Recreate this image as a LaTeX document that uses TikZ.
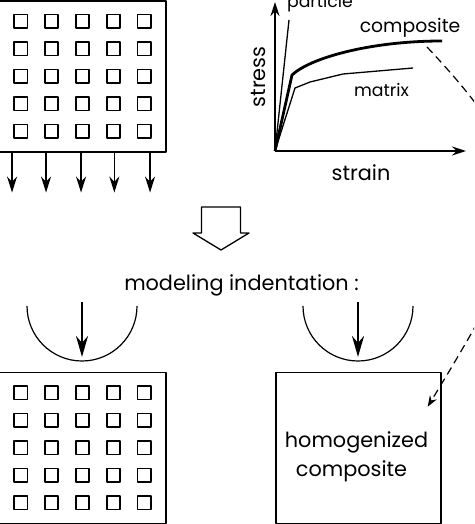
\documentclass[tikz,border=0pt]{standalone}
\usepackage{fontspec}
\setmainfont{Poppins}
\usetikzlibrary{arrows.meta, positioning}

\tikzset{
	specimen/.style={draw, line width=1.3pt, minimum width=167pt, minimum height=151pt, inner sep=0pt},
	pore/.style={draw, line width=1.5pt, minimum size=13.2pt, inner sep=0pt},
	load/.style={line width=1.3pt, -{Stealth[length=16pt, width=10pt]}},
	push/.style={line width=2.6pt, -{Stealth[length=21pt, width=12pt]}},
	curve/.style={line width=1.3pt},
	big/.style={font=\fontsize{20.8}{25}\selectfont, inner sep=0pt},
	small/.style={font=\fontsize{17.3}{21}\selectfont, inner sep=0pt},
}

\begin{document}
\begin{tikzpicture}[x=1pt, y=-1pt, line join=round]
	\useasboundingbox (0,0) rectangle (474,524);
	\clip (0,0) rectangle (474,524);

	% specimens with particles
	\node[specimen] 									(S1) 	at (82.5,76.4) 	{};
	\node[specimen] 									(S2) 	at (82.5,447.9) {};
	\foreach \dy in {0,371.5}
		\foreach \i in {0,...,4}
			\foreach \j in {0,...,4}
				\node[pore] at ({20.7+30.9*\i},{21.3+27.5*\j+\dy}) {};
	\foreach \x in {13.7,47.7,82.7,116,151.7}
		\draw[load] ([xshift=\x pt]S1.south west) -- ++(0,40);

	% stress-strain curves
	\coordinate 										(O) 	at (275,151);
	\draw[curve, -{Stealth[length=14pt, width=9pt]}] (O) -- (275,2);
	\draw[curve, -{Stealth[length=14pt, width=9pt]}] (O) -- (466,151);
	\draw[curve] (O) -- (289,20);
	\draw[line width=2.8pt] (O) -- (292,75) .. controls (310,58) and (370,41) .. (442,41);
	\draw[curve] (O) -- (295,88) -- (310,82) -- (343,74) -- (413,68);
	\node[small, anchor=base] 							(PL) 	at (320,8) 		{particle};
	\node[small, anchor=base, font=\fontsize{18.8}{22}\selectfont] (CL) at (410,33) {composite};
	\node[small, anchor=base] 							(ML) 	at (381.5,97) 	{matrix};
	\node[big, anchor=base] 							(XL) 	at (361,180) 	{strain};
	\node[big, anchor=base, rotate=90] 					(YL) 	at (265,77) 	{stress};

	% step to the model
	\draw[line width=1.3pt] (201.5,207) -- (240.5,207) -- (240.5,233) -- (249,233) -- (221,250)
		-- (193,233) -- (201.5,233) -- cycle;
	\node[big, anchor=base] 							(MI) 	at (241.5,290) 	{modeling indentation :};

	% indenters
	\coordinate 										(I1) 	at (82,306);
	\coordinate 										(I2) 	at (358,306);
	\foreach \c in {I1,I2} {
		\draw[line width=1.2pt] ([xshift=-55pt]\c) arc[start angle=180, end angle=0, radius=55];
		\draw[push] ([yshift=4pt]\c) -- ([yshift=-51pt]\c);
	}

	% homogenized model
	\node[specimen, minimum width=165pt] 				(HC) 	at (358.5,447.9) {};
	\node[big, anchor=base] 							(H1) 	at (356.5,447) 	{homogenized};
	\node[big, anchor=base] 							(H2) 	at (351.5,476) 	{composite};
	\coordinate 										(D0) 	at (427,47);
	\draw[line width=1.2pt, dash pattern=on 8pt off 5pt, -{Stealth[length=11pt, width=8pt]}]
		(D0) .. controls (557,185) and (537,227) .. ([xshift=-14pt, yshift=-35pt]HC.north east);
\end{tikzpicture}
\end{document}
